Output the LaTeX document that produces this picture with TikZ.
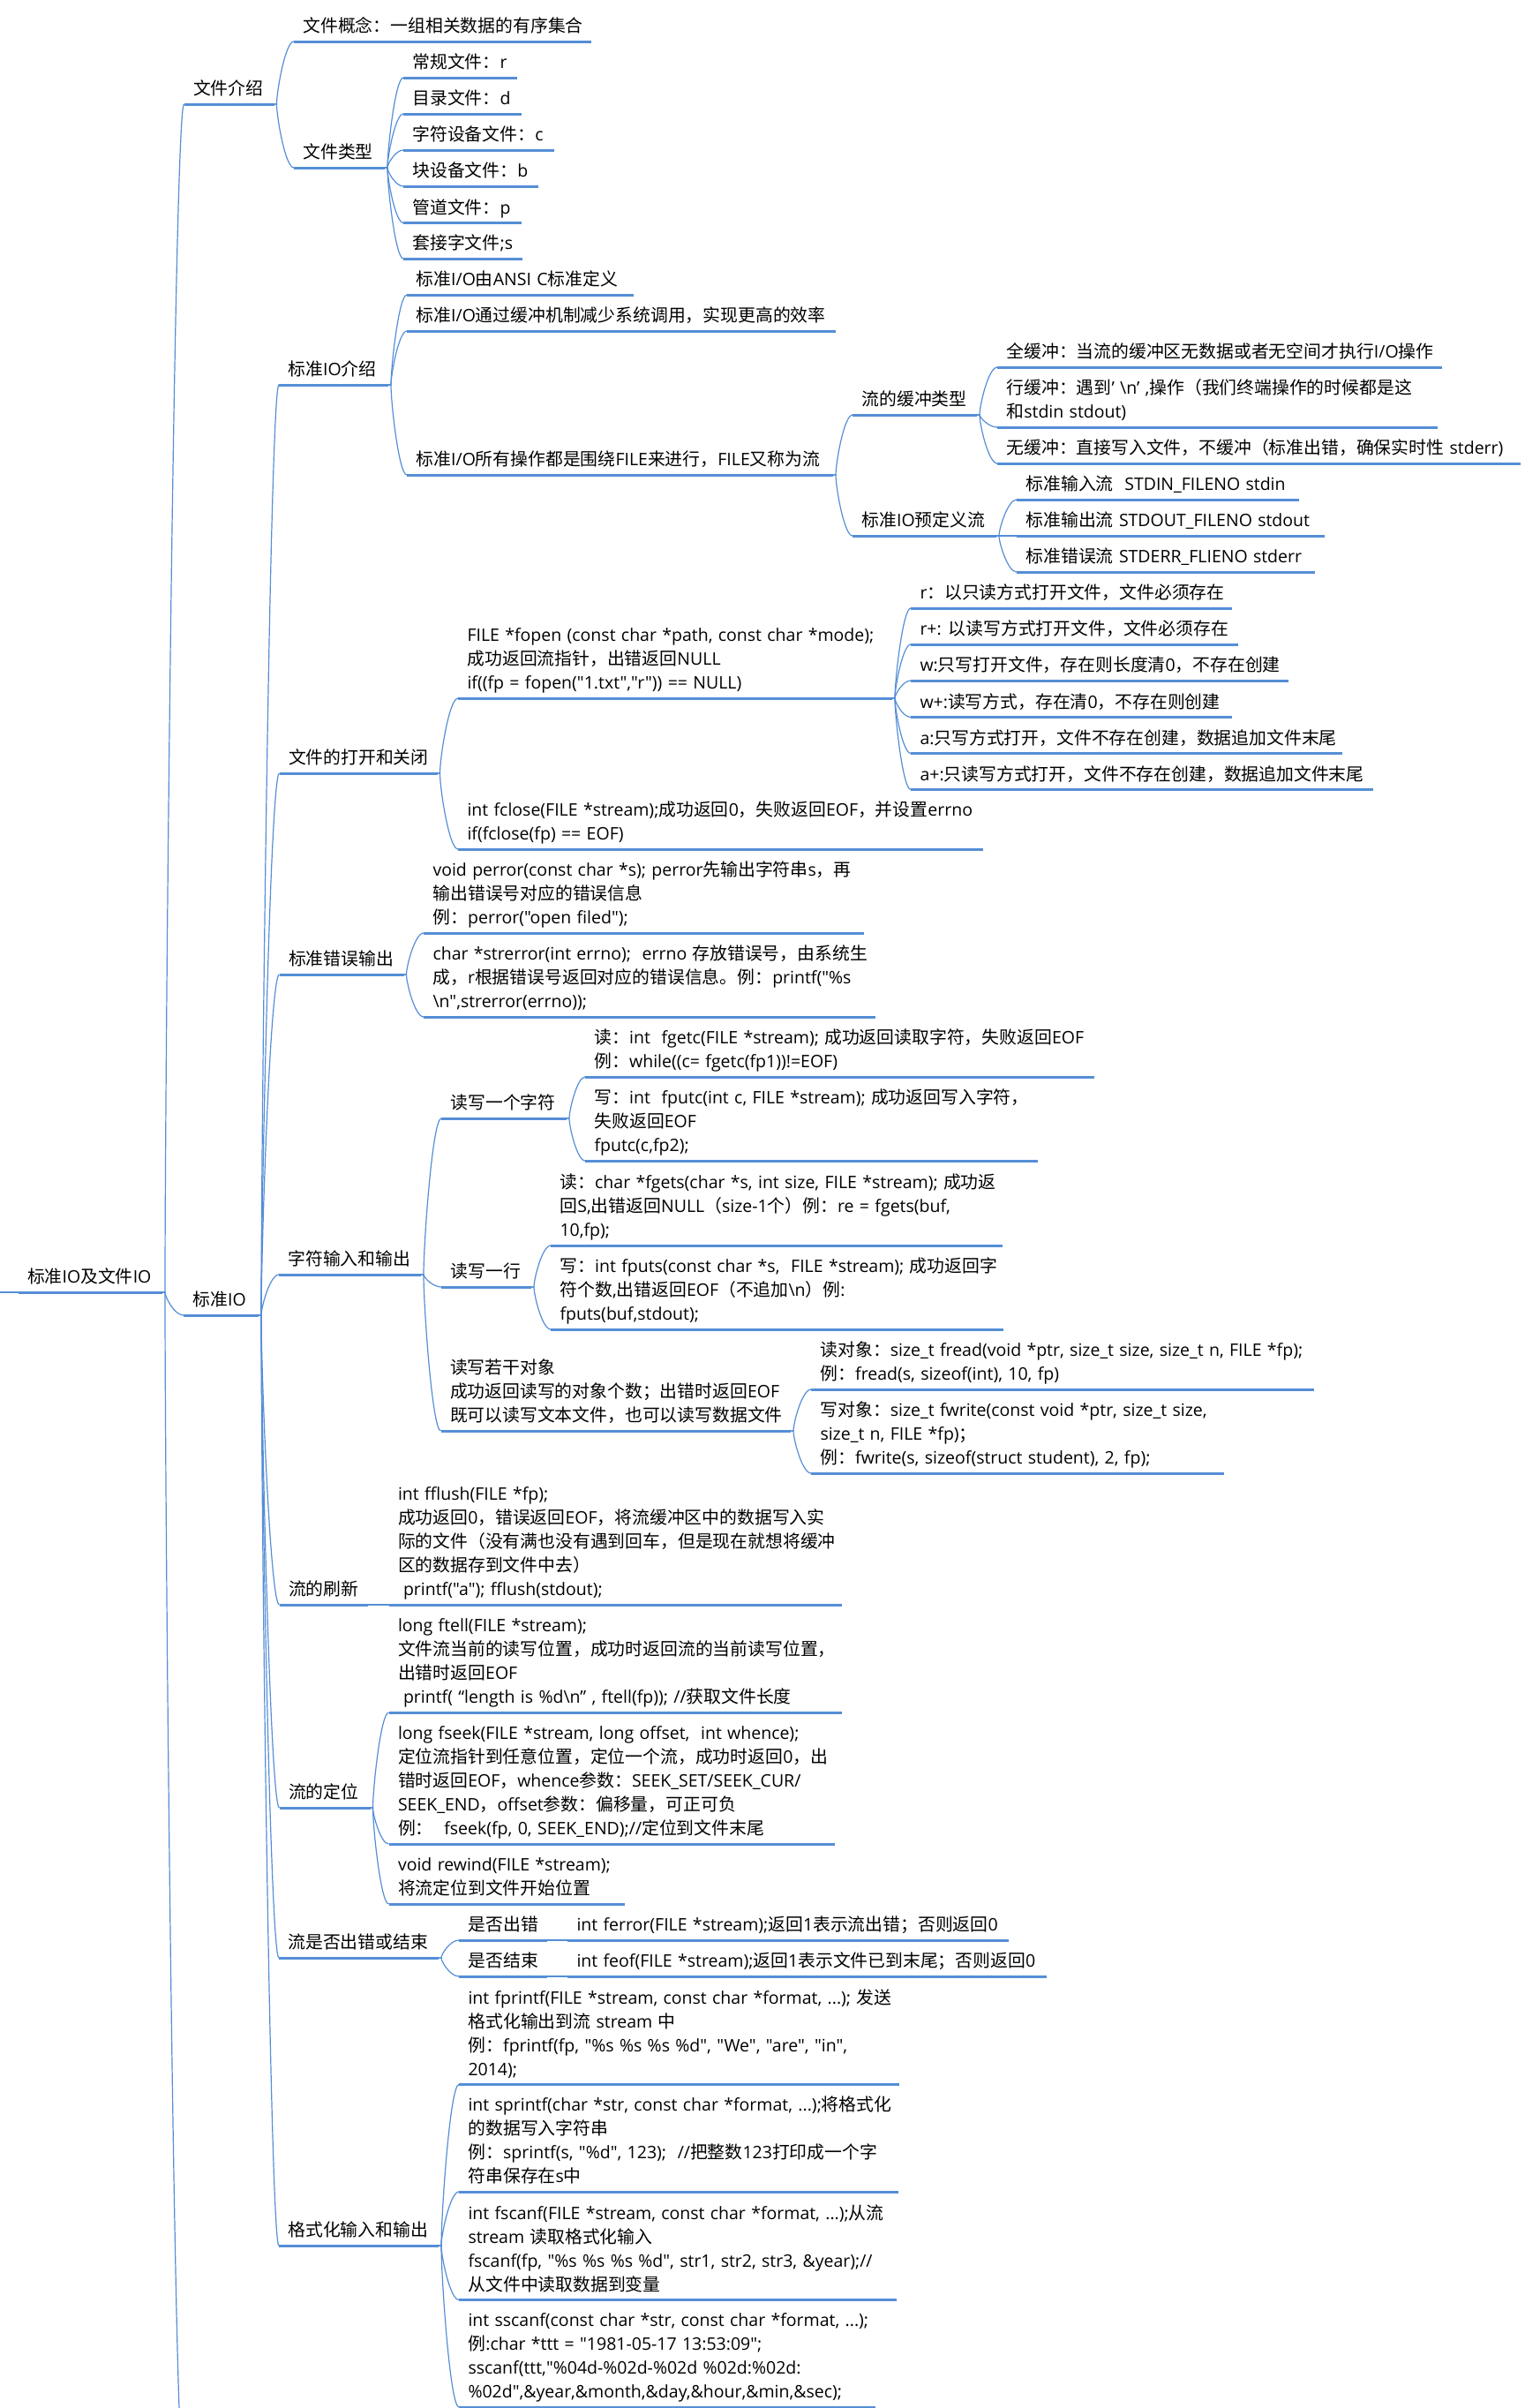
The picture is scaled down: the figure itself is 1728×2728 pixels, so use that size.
\documentclass[tikz,border=0pt]{standalone}
\usepackage{fontspec}
\usetikzlibrary{calc}
\setmainfont{Open Sans}[Scale=1.0,Ligatures=TeXOff,WordSpace=1.25]
\newfontfamily\cjkf{Noto Sans CJK SC}[Scale=1.017,Ligatures=TeXOff]
\newcommand{\latf}{\rmfamily}
\XeTeXinterchartokenstate=1
\newXeTeXintercharclass\cjkclass
\newcount\mycnt
\mycnt="4E00
\loop\ifnum\mycnt<"A000 \XeTeXcharclass\mycnt=\cjkclass \advance\mycnt 1 \repeat
\mycnt="3000
\loop\ifnum\mycnt<"3040 \XeTeXcharclass\mycnt=\cjkclass \advance\mycnt 1 \repeat
\mycnt="FF00
\loop\ifnum\mycnt<"FFF0 \XeTeXcharclass\mycnt=\cjkclass \advance\mycnt 1 \repeat
\XeTeXinterchartoks 0 \cjkclass={\cjkf}
\XeTeXinterchartoks 4095 \cjkclass={\cjkf}
\XeTeXinterchartoks \cjkclass 0={\latf}
\XeTeXinterchartoks \cjkclass 4095={\latf}
\definecolor{mapblue}{HTML}{558ED6}
\tikzset{
  brnode/.style={anchor=south west,inner xsep=10.5pt,inner ysep=0pt,outer sep=0pt,text depth=10.5pt,text=black,
    font=\fontsize{19.5pt}{27pt}\selectfont},
  ul/.style={draw=mapblue,line width=3pt},
  cnx/.style={draw=mapblue,line width=1.2pt}
}
\newcommand{\br}[5]{%
  \pgfmathsetlengthmacro\wtxt{#3-#2-21}%
  \node[brnode] (#1) at (#2,#4) {\hbox to \wtxt{\begin{tabular}[b]{@{}l@{}}#5\end{tabular}\hss}};
  \draw[ul] (#1.south west) -- (#1.south east);
}
\newcommand{\cn}[2]{%
  \draw[cnx] let \p1=($(#1.south east)+(3pt,0)$), \p2=(#2.south west) in
    (#1.south east) -- (\p1) .. controls (\x1,{\y1+0.2*(\y2-\y1)}) and ({\x1+0.5*(\x2-\x1)},\y2) .. (\p2);
}
\newcommand{\st}[2]{\draw[cnx] (#1.south east) -- (#2.south west);}
\begin{document}
\begin{tikzpicture}[x=1pt,y=-1pt]
\useasboundingbox (0,0) rectangle (1728,2728);
\clip (0,0) rectangle (1728,2728);
\fill[white] (0,0) rectangle (1728,2728);
% root and top levels
\coordinate (rootin) at (0,1464);
\coordinate (rootdown) at (208,2803);
\br{root}{20.5}{184}{1464}{标准IO及文件IO}
\br{fintro}{208.5}{310.5}{118}{文件介绍}
\br{stdio}{208}{293}{1490}{标准IO}
% file intro
\br{fconcept}{333}{670}{47}{文件概念：一组相关数据的有序集合}
\br{ftype}{333}{436}{190}{文件类型}
\br{t1}{457}{586}{88}{常规文件：r}
\br{t2}{457}{591}{129}{目录文件：d}
\br{t3}{457}{628}{170}{字符设备文件：c}
\br{t4}{457}{610}{211}{块设备文件：b}
\br{t5}{457}{591}{252.5}{管道文件：p}
\br{t6}{457}{592}{293}{套接字文件;s}
% std io intro
\br{iointro}{316}{440}{436}{标准IO介绍}
\br{i1}{461}{718}{334}{标准I/O由ANSI C标准定义}
\br{i2}{461}{947}{375}{标准I/O通过缓冲机制减少系统调用，实现更高的效率}
\br{i3}{461}{944}{538}{标准I/O所有操作都是围绕FILE来进行，FILE又称为流}
\br{bufk}{966}{1107}{470}{流的缓冲类型}
\br{b1}{1130}{1634}{416}{全缓冲：当流的缓冲区无数据或者无空间才执行I/O操作}
\br{b2}{1130}{1629}{484}{行缓冲：遇到’~\textbackslash n’~,操作（我们终端操作的时候都是这\\和stdin stdout)}
\br{b3}{1130}{1722.5}{525}{无缓冲：直接写入文件，不缓冲（标准出错，确保实时性 stderr)}
\br{pre}{966}{1129}{607}{标准IO预定义流}
\br{p1}{1152}{1472}{566}{标准输入流~~STDIN\_FILENO stdin}
\br{p2}{1152}{1501}{607}{标准输出流 STDOUT\_FILENO stdout}
\br{p3}{1152}{1490}{648}{标准错误流 STDERR\_FLIENO stderr}
% open close
\br{oc}{316.5}{495.5}{876}{文件的打开和关闭}
\br{fopen}{519}{1011}{791}{FILE *fopen (const char *path, const char *mode);\\成功返回流指针，出错返回NULL\\if((fp = fopen("1.txt","r")) == NULL)}
\br{fclose}{519}{1114}{962}{int fclose(FILE *stream);成功返回0，失败返回EOF，并设置errno\\if(fclose(fp) == EOF)}
\br{m1}{1032}{1396}{689}{r：以只读方式打开文件，文件必须存在}
\br{m2}{1032}{1403}{730}{r+: 以读写方式打开文件，文件必须存在}
\br{m3}{1032}{1460}{771}{w:只写打开文件，存在则长度清0，不存在创建}
\br{m4}{1032}{1396}{812.5}{w+:读写方式，存在清0，不存在则创建}
\br{m5}{1032}{1521}{853.5}{a:只写方式打开，文件不存在创建，数据追加文件末尾}
\br{m6}{1032}{1556}{894.5}{a+:只读写方式打开，文件不存在创建，数据追加文件末尾}
% errors
\br{err}{316.5}{457.5}{1104}{标准错误输出}
\br{perr}{480}{979}{1057}{void perror(const char *s); perror先输出字符串s，再\\输出错误号对应的错误信息\\例：perror("open filed");}
\br{strerr}{480}{992}{1152}{char *strerror(int errno);~~errno 存放错误号，由系统生\\成，r根据错误号返回对应的错误信息。例：printf("\%s\\\textbackslash n",strerror(errno));}
% char io
\br{cio}{316}{477}{1444}{字符输入和输出}
\br{rw1}{500}{642}{1267}{读写一个字符}
\br{fgetc}{663}{1240}{1220}{读：int~~fgetc(FILE *stream); 成功返回读取字符，失败返回EOF\\例：while((c= fgetc(fp1))!=EOF)}
\br{fputc}{663}{1176}{1315}{写：int~~fputc(int c, FILE *stream); 成功返回写入字符，\\失败返回EOF\\fputc(c,fp2);}
\br{rwl}{500}{602}{1458}{读写一行}
\br{fgets}{624}{1135.5}{1411}{读：char *fgets(char *s, int size, FILE *stream); 成功返\\回S,出错返回NULL（size-1个）例：re = fgets(buf,\\10,fp);}
\br{fputs}{624}{1137}{1506}{写：int fputs(const char *s,~~FILE *stream); 成功返回字\\符个数,出错返回EOF（不追加\textbackslash n）例:\\fputs(buf,stdout);}
\br{rwo}{499.5}{896}{1621}{读写若干对象\\成功返回读写的对象个数；出错时返回EOF\\既可以读写文本文件，也可以读写数据文件}
\br{fread}{919}{1489}{1574}{读对象：size\_t fread(void *ptr, size\_t size, size\_t n, FILE *fp);\\例：fread(s, sizeof(int), 10, fp)}
\br{fwrite}{919}{1387}{1669}{写对象：size\_t fwrite(const void *ptr, size\_t size,\\size\_t n, FILE *fp)；\\例：fwrite(s, sizeof(struct student), 2, fp);}
% flush
\br{flush}{316.5}{417}{1818}{流的刷新}
\br{fflush}{440.5}{953.5}{1818}{int fflush(FILE *fp);\\成功返回0，错误返回EOF，将流缓冲区中的数据写入实\\际的文件（没有满也没有遇到回车，但是现在就想将缓冲\\区的数据存到文件中去）\\\hspace{6pt}printf("a"); fflush(stdout);}
% seek
\br{pos}{316.5}{419.5}{2048}{流的定位}
\br{ftell}{440.5}{953.5}{1940}{long ftell(FILE *stream);\\文件流当前的读写位置，成功时返回流的当前读写位置，\\出错时返回EOF\\\hspace{6pt}printf(~“length is \%d\textbackslash n”~, ftell(fp)); //获取文件长度}
\br{fseek}{440.5}{946}{2089}{long fseek(FILE *stream, long offset,~~int whence);\\定位流指针到任意位置，定位一个流，成功时返回0，出\\错时返回EOF，whence参数：SEEK\_SET/SEEK\_CUR/\\SEEK\_END，offset参数：偏移量，可正可负\\例：~~fseek(fp, 0, SEEK\_END);//定位到文件末尾}
\br{rewind}{440.5}{708}{2157}{void rewind(FILE *stream);\\将流定位到文件开始位置}
% status
\br{stat}{316}{497}{2218}{流是否出错或结束}
\br{se}{520}{620}{2198}{是否出错}
\br{ferror}{643}{1143}{2198}{int ferror(FILE *stream);返回1表示流出错；否则返回0}
\br{sf}{520}{620}{2239}{是否结束}
\br{feof}{643}{1186}{2239}{int feof(FILE *stream);返回1表示文件已到末尾；否则返回0}
% format
\br{fmt}{316}{497}{2544}{格式化输入和输出}
\br{fprintf}{520}{1019}{2361.5}{int fprintf(FILE *stream, const char *format, ...); 发送\\格式化输出到流 stream 中\\例：fprintf(fp, "\%s \%s \%s \%d", "We", "are", "in",\\2014);}
\br{sprintf}{520}{1017.5}{2483}{int sprintf(char *str, const char *format, ...);将格式化\\的数据写入字符串\\例：sprintf(s, "\%d", 123);~~//把整数123打印成一个字\\符串保存在s中}
\br{fscanf}{520}{1016}{2605.5}{int fscanf(FILE *stream, const char *format, ...);从流\\stream 读取格式化输入\\fscanf(fp, "\%s \%s \%s \%d", str1, str2, str3, \&year);//\\从文件中读取数据到变量}
\br{sscanf}{520}{992}{2727}{int sscanf(const char *str, const char *format, ...);\\例:char *ttt = "1981-05-17 13:53:09";\\sscanf(ttt,"\%04d-\%02d-\%02d \%02d:\%02d:\\\%02d",\&year,\&month,\&day,\&hour,\&min,\&sec);}
% connectors
\draw[cnx] (rootin) -- (root.south west);
\cn{root}{fintro}\cn{root}{stdio}
\draw[cnx] let \p1=($(root.south east)+(3pt,0)$), \p2=(rootdown) in
  (root.south east) -- (\p1) .. controls (\x1,{\y1+0.2*(\y2-\y1)}) and ({\x1+0.5*(\x2-\x1)},\y2) .. (\p2);
\cn{fintro}{fconcept}\cn{fintro}{ftype}
\cn{ftype}{t1}\cn{ftype}{t2}\cn{ftype}{t3}\cn{ftype}{t4}\cn{ftype}{t5}\cn{ftype}{t6}
\cn{stdio}{iointro}\cn{stdio}{oc}\cn{stdio}{err}\cn{stdio}{cio}\cn{stdio}{flush}\cn{stdio}{pos}\cn{stdio}{stat}\cn{stdio}{fmt}
\cn{iointro}{i1}\cn{iointro}{i2}\cn{iointro}{i3}
\cn{i3}{bufk}\cn{i3}{pre}
\cn{bufk}{b1}\cn{bufk}{b2}\cn{bufk}{b3}
\cn{pre}{p1}\st{pre}{p2}\cn{pre}{p3}
\cn{oc}{fopen}\cn{oc}{fclose}
\cn{fopen}{m1}\cn{fopen}{m2}\cn{fopen}{m3}\cn{fopen}{m4}\cn{fopen}{m5}\cn{fopen}{m6}
\cn{err}{perr}\cn{err}{strerr}
\cn{cio}{rw1}\cn{cio}{rwl}\cn{cio}{rwo}
\cn{rw1}{fgetc}\cn{rw1}{fputc}
\cn{rwl}{fgets}\cn{rwl}{fputs}
\cn{rwo}{fread}\cn{rwo}{fwrite}
\st{flush}{fflush}
\cn{pos}{ftell}\cn{pos}{fseek}\cn{pos}{rewind}
\cn{stat}{se}\cn{stat}{sf}
\st{se}{ferror}\st{sf}{feof}
\cn{fmt}{fprintf}\cn{fmt}{sprintf}\cn{fmt}{fscanf}\cn{fmt}{sscanf}
\end{tikzpicture}
\end{document}
